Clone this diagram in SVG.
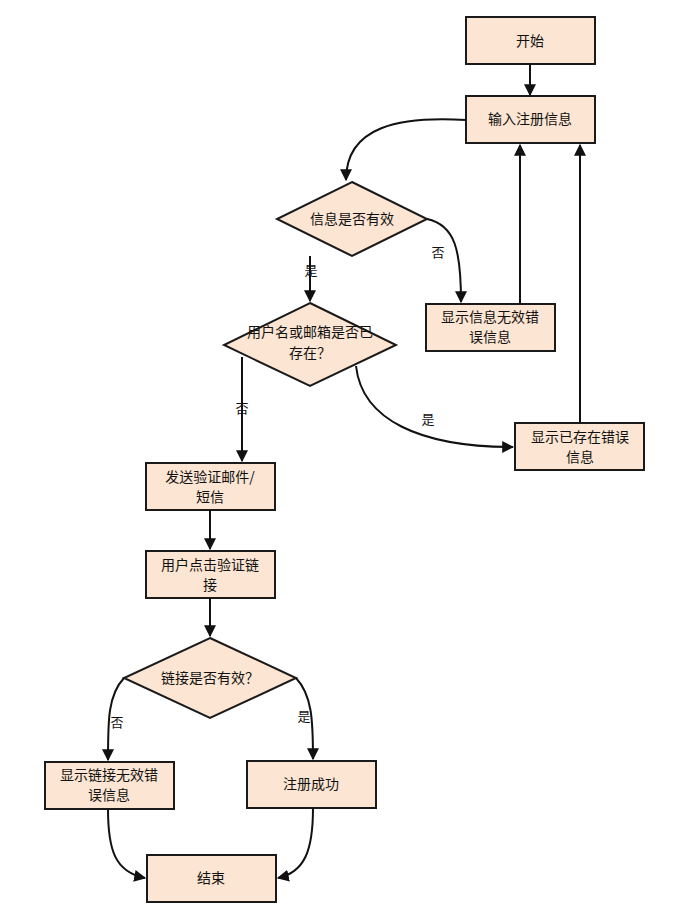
<svg xmlns="http://www.w3.org/2000/svg" width="693" height="915" viewBox="0 0 693 915">
<style>
.n{fill:#fce5d2;stroke:#1a1a1a;stroke-width:2}
.t{font-family:"Noto Sans CJK SC","Liberation Sans",sans-serif;font-size:14px;fill:#111;text-anchor:middle}
.c{fill:none;stroke:#111;stroke-width:2;marker-end:url(#a)}
.l{font-family:"Noto Sans CJK SC",sans-serif;font-size:13px;fill:#111;text-anchor:middle}
</style>
<defs><marker id="a" viewBox="0 0 10 10" refX="9" refY="5" markerWidth="6" markerHeight="6" orient="auto"><path d="M0,0L10,5L0,10z" fill="#111"/></marker></defs>
<rect width="693" height="915" fill="#fff"/>
<g id="start"><rect class="n" x="466" y="17" width="129" height="47"/><text class="t" x="530" y="46">开始</text></g>
<g id="input"><rect class="n" x="466" y="96" width="129" height="47"/><text class="t" x="530" y="124">输入注册信息</text></g>
<g id="d1"><polygon class="n" points="352,182 427,219 352,256 277,219"/><text class="t" x="352" y="224">信息是否有效</text></g>
<g id="err1"><rect class="n" x="426" y="304" width="129" height="47"/><text class="t" x="490" y="322">显示信息无效错</text><text class="t" x="490" y="342">误信息</text></g>
<g id="d2"><polygon class="n" points="310,303 396,345 310,386 224,345"/><text class="t" x="310" y="337">用户名或邮箱是否已</text><text class="t" x="310" y="358">存在？</text></g>
<g id="err2"><rect class="n" x="515" y="423" width="129" height="47"/><text class="t" x="580" y="442">显示已存在错误</text><text class="t" x="580" y="462">信息</text></g>
<g id="send"><rect class="n" x="146" y="463" width="129" height="47"/><text class="t" x="210" y="482">发送验证邮件/</text><text class="t" x="210" y="502">短信</text></g>
<g id="click"><rect class="n" x="146" y="551" width="129" height="47"/><text class="t" x="210" y="570">用户点击验证链</text><text class="t" x="210" y="590">接</text></g>
<g id="d3"><polygon class="n" points="210,638 296,678 210,718 124,678"/><text class="t" x="210" y="683">链接是否有效？</text></g>
<g id="err3"><rect class="n" x="45" y="762" width="129" height="47"/><text class="t" x="109" y="780">显示链接无效错</text><text class="t" x="109" y="800">误信息</text></g>
<g id="ok"><rect class="n" x="247" y="761" width="129" height="47"/><text class="t" x="311" y="789">注册成功</text></g>
<g id="end"><rect class="n" x="147" y="855" width="129" height="47"/><text class="t" x="211" y="883">结束</text></g>
<g id="connectors">
<path class="c" d="M530,64V95"/>
<path class="c" d="M466,120C400,116 346,126 346,180"/>
<path class="c" d="M427,219C455,225 461,250 461,302"/>
<path class="c" d="M520,304V145"/>
<path class="c" d="M580,423V145"/>
<path class="c" d="M310,256V301"/>
<path class="c" d="M242,357V461"/>
<path class="c" d="M356,366C362,420 420,447 513,447"/>
<path class="c" d="M210,510V549"/>
<path class="c" d="M210,598V636"/>
<path class="c" d="M124,678C108,695 108,720 108,760"/>
<path class="c" d="M296,678C312,695 313,720 313,759"/>
<path class="c" d="M108,809C108,850 115,872 145,878"/>
<path class="c" d="M313,808C313,850 305,872 278,878"/>
</g>
<g id="labels">
<text class="l" x="438" y="257">否</text>
<text class="l" x="311" y="275">是</text>
<text class="l" x="242" y="413">否</text>
<text class="l" x="428" y="424">是</text>
<text class="l" x="117" y="727">否</text>
<text class="l" x="304" y="721">是</text>
</g>
</svg>
